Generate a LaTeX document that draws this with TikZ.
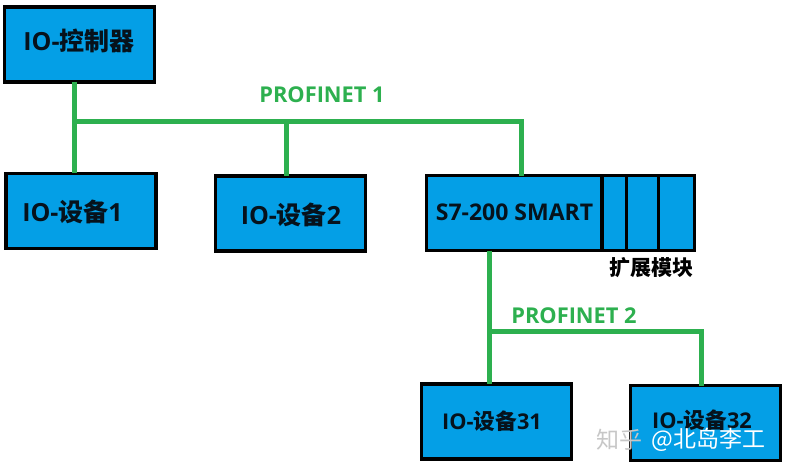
\documentclass[tikz,border=0pt]{standalone}
\usepackage{fontspec}
\setmainfont{Open Sans}
\newfontfamily\cjk{Noto Sans CJK SC}
\newcommand{\hz}[1]{{\cjk\bfseries #1}}
\definecolor{boxblue}{HTML}{049FE6}
\definecolor{netgreen}{HTML}{2DB04F}
\definecolor{ink}{HTML}{06121C}
\tikzset{
  devbox/.style={draw=black,line width=3.6pt,fill=boxblue,inner sep=0pt,outer sep=0pt,minimum width=150pt,minimum height=75pt},
  devtext/.style={text=ink,font=\fontsize{25}{25}\selectfont\bfseries,inner sep=0pt},
  smalltext/.style={text=ink,font=\fontsize{21.7}{22}\selectfont\bfseries,inner sep=0pt},
  modbox/.style={draw=black,line width=3pt,fill=boxblue,inner sep=0pt,outer sep=0pt,minimum height=75pt},
  net/.style={draw=netgreen,line width=5pt},
  netlabel/.style={text=netgreen,font=\fontsize{21.8}{22}\selectfont\bfseries,inner sep=0pt},
  wmark/.style={font=\fontsize{23}{24}\cjk,inner sep=0pt,anchor=west}
}
\begin{document}
\begin{tikzpicture}[x=1pt,y=-1pt]
\useasboundingbox (0,0) rectangle (786,473);
% boxes
\node[devbox] (ctrl) at (79.5,44.5) {};
\node[devtext] (ctrlt) at (79,41) {IO-\hz{控制器}};
\node[devbox] (d1) at (81,211) {};
\node[devtext] (d1t) at (72.5,212) {IO-\hz{设备}1};
\node[devbox] (d2) at (290.5,213.5) {};
\node[devtext] (d2t) at (291,215) {IO-\hz{设备}2};
\node[modbox,minimum width=175pt] (s7) at (514,213) {};
\node[text=ink,font=\fontsize{23}{23}\selectfont\bfseries,inner sep=0pt] (s7t) at (514.5,212) {S7-200 SMART};
\node[modbox,minimum width=24pt] (m1) at (614.5,213) {};
\node[modbox,minimum width=32pt] (m2) at (642,213) {};
\node[modbox,minimum width=35.5pt] (m3) at (676.25,213) {};
\node[text=black,font=\fontsize{21}{21}\selectfont,inner sep=0pt] (ext) at (651,268) {\hz{扩展模块}};
\node[devbox] (d31) at (496.5,421.5) {};
\node[smalltext] (d31t) at (492,421) {IO-\hz{设备}31};
\node[devbox] (d32) at (705.5,423) {};
\node[smalltext] (d32t) at (702,420) {IO-\hz{设备}32};
% junctions
\coordinate (ja) at (74,121.5);
\coordinate (jb) at (286,121.5);
\coordinate (jc) at (521,121.5);
\coordinate (jd) at (489,331);
\coordinate (je) at (701,331);
% connectors
\draw[net] (ctrl.south -| ja) -- (d1.north -| ja);
\draw[net,line cap=rect] (ja) -- (jc);
\draw[net] (jb) -- (d2.north -| jb);
\draw[net] (jc) -- (s7.north -| jc);
\draw[net] (s7.south -| jd) -- (d31.north -| jd);
\draw[net,line join=miter] (jd) -- (je) -- (d32.north -| je);
% labels
\node[netlabel] (p1) at (322,94.5) {PROFINET 1};
\node[netlabel] (p2) at (574,315.5) {PROFINET 2};
% watermark
\node[wmark,text=black!22] (w1) at (596.5,439.5) {知乎};
\node[wmark,text=white] (w2) at (651.5,439.5) {@北岛李工};
\end{tikzpicture}
\end{document}
